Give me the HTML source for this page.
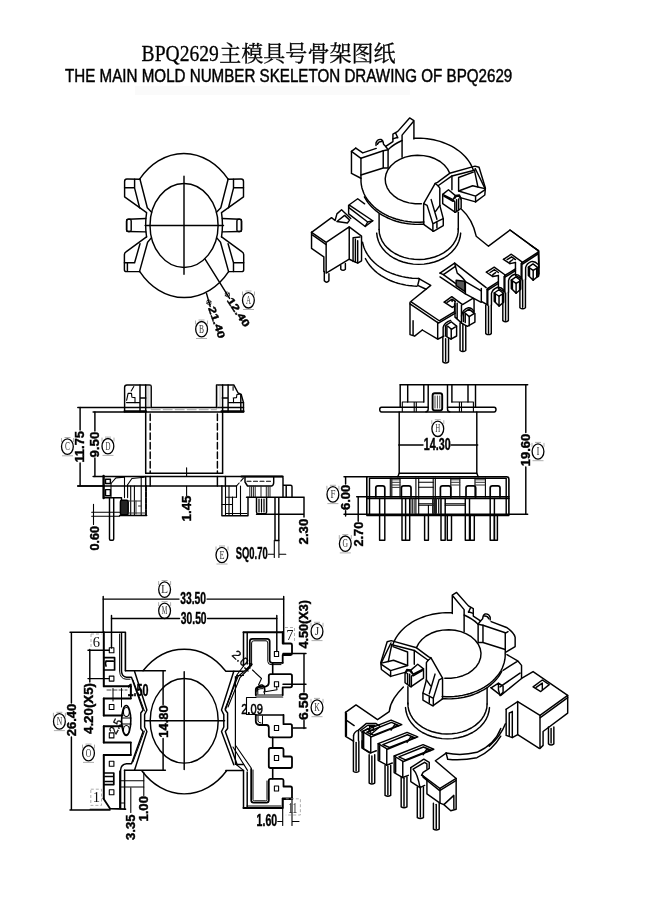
<!DOCTYPE html>
<html lang="zh">
<head>
<meta charset="utf-8">
<title>BPQ2629主模具号骨架图纸</title>
<style>
html,body{margin:0;padding:0;background:#fff;}
body{width:650px;height:920px;overflow:hidden;position:relative;font-family:"Liberation Sans","Noto Sans CJK SC",sans-serif;}
svg{position:absolute;left:0;top:0;display:block;will-change:transform;}
.ln{fill:none;stroke:#000;stroke-width:1.45;stroke-linecap:round;stroke-linejoin:round;}
.t1{font-family:"Liberation Serif","Noto Serif CJK SC",serif;font-size:22.3px;fill:#000;stroke:#000;stroke-width:.3px;}
.t1c{font-family:"Liberation Serif","Noto Serif CJK SC",serif;font-size:21.6px;fill:#000;stroke:#000;stroke-width:.3px;}
.t2{font-family:"Liberation Sans","Noto Sans CJK SC",sans-serif;font-size:17.8px;fill:#000;stroke:#000;stroke-width:.45px;}
.dim{font-family:"Liberation Sans","Noto Sans CJK SC",sans-serif;font-weight:bold;font-size:12.6px;fill:#000;stroke:#000;stroke-width:.35px;}
.dim2{font-family:"Liberation Sans","Noto Sans CJK SC",sans-serif;font-weight:bold;font-size:12.3px;fill:#000;stroke:#000;stroke-width:.4px;}
.dimh{font-family:"Liberation Sans","Noto Sans CJK SC",sans-serif;font-weight:bold;font-size:15.6px;fill:#000;stroke:#000;stroke-width:.4px;}
.dimt{font-family:"Liberation Sans",sans-serif;font-size:12.5px;fill:#000;stroke:#000;stroke-width:.3px;}
.pinno{font-family:"Liberation Serif",serif;font-size:14.5px;fill:#111;text-anchor:middle;}
.dat{font-family:"Liberation Serif",serif;font-size:11.5px;fill:#333;text-anchor:middle;}
.de{fill:none;stroke:#000;stroke-width:1.3;}
</style>
</head>
<body>
<svg width="650" height="920" viewBox="0 0 650 920">
<rect x="0" y="0" width="650" height="920" fill="#fff"/>
<!-- title -->
<rect x="135" y="86" width="275" height="9" fill="#fafafa"/>
<text class="t1" x="141.6" y="60.9" textLength="77.2" lengthAdjust="spacingAndGlyphs">BPQ2629</text>
<text class="t1c" x="219.2" y="61.3" textLength="176.4" lengthAdjust="spacingAndGlyphs">主模具号骨架图纸</text>
<text class="t2" x="65.1" y="82.4" textLength="447.2" lengthAdjust="spacingAndGlyphs">THE MAIN MOLD NUMBER SKELETON DRAWING OF BPQ2629</text>
<!-- top view -->
<g class="ln">
<ellipse cx="184.05" cy="225.4" rx="34.05" ry="42"/>
<path d="M184,176.3 L184,274.3 M145.2,225.4 L223.5,225.4"/>
<path d="M139.6,179.2 A57.7,71.95 0 0 1 228.1,179.2"/>
<path d="M139.8,271.6 A57.7,71.95 0 0 0 228.6,271.6"/>
<g id="wingR">
<path d="M228.1,179.2 L241.2,179 Q243.5,179 243.5,181.5 L243.5,196.9 L221.5,212.7 Q223.4,225.4 221.5,237"/>
<path d="M233.5,179.2 L233.5,188.1 L228.5,207.7 M233.5,187.8 L243.5,187.8"/>
<path d="M228.1,179.2 L220.8,207.7 L216.5,212.3"/>
<path d="M222.3,218.5 L240,219.2 Q241.5,219.2 241.5,221.2 L241.5,230 Q241.5,231.5 240,231.5 L222.3,231.9"/>
<rect x="236.9" y="219.3" width="4.6" height="12.2" rx="1.6"/>
</g>
<g id="wingRB">
<path d="M228.6,271.6 L241.5,271.6 Q243.7,271.6 243.7,269.7 L243.7,254.6 Q243.5,252.6 242.1,251.9 L221.6,236.8"/>
<path d="M233.5,271.6 L233.5,262.7 L228.1,243.8 M233.5,262.7 L243.7,262.7"/>
<path d="M228.6,271.6 L220.5,242.2 L216.8,237.9"/>
</g>
<g transform="translate(368.1,0) scale(-1,1)">
<path d="M228.1,179.2 L241.2,179 Q243.5,179 243.5,181.5 L243.5,196.9 L221.5,212.7 Q223.4,225.4 221.5,237"/>
<path d="M233.5,179.2 L233.5,188.1 L228.5,207.7 M233.5,187.8 L243.5,187.8"/>
<path d="M228.1,179.2 L220.8,207.7 L216.5,212.3"/>
<path d="M222.3,218.5 L240,219.2 Q241.5,219.2 241.5,221.2 L241.5,230 Q241.5,231.5 240,231.5 L222.3,231.9"/>
<rect x="236.9" y="219.3" width="4.6" height="12.2" rx="1.6"/>
<path d="M228.6,271.6 L241.5,271.6 Q243.7,271.6 243.7,269.7 L243.7,254.6 Q243.5,252.6 242.1,251.9 L221.6,236.8"/>
<path d="M233.5,262.7 L228.1,243.8 M233.5,262.7 L243.7,262.7 M240.7,262.7 L240.7,271.2"/>
<path d="M228.6,271.6 L220.5,242.2 L216.8,237.9"/>
</g>
<path d="M204.9,258.9 L229.6,298.4 M206.5,293.4 L210.2,306.5"/>
</g>
<g>
<text class="dimt" transform="translate(222.9,293.2) rotate(57)" style="font-size:8.5px;stroke:none">Φ</text>
<text class="dim" transform="translate(226.6,300.4) rotate(57)" style="font-size:10.4px" textLength="32.9" lengthAdjust="spacingAndGlyphs">12.40</text>
<text class="dimt" transform="translate(205,300.2) rotate(71)" style="font-size:8.5px;stroke:none">Φ</text>
<text class="dim" transform="translate(208,307.95) rotate(71)" style="font-size:10.4px" textLength="33" lengthAdjust="spacingAndGlyphs">21.40</text>
<g class="de"><ellipse cx="248.4" cy="300.3" rx="5.9" ry="7.7"/><ellipse cx="201.6" cy="329.2" rx="5.9" ry="7.7"/></g>
<g stroke="#999" stroke-width=".8" fill="none"><path d="M242.5,291.5 v4 M254.5,291.5 v4 M245.5,291 h6 M243,309.5 h11 M195.5,320.5 v4 M207.5,320.5 v4 M198.5,320 h6 M196,338.5 h11"/></g>
<text class="dat" x="248.4" y="304" textLength="5" lengthAdjust="spacingAndGlyphs">A</text>
<text class="dat" x="201.6" y="333" textLength="5" lengthAdjust="spacingAndGlyphs">B</text>
</g>
<!-- isometric view 1 (top right) -->
<g class="ln" style="stroke-width:1.45">
<path d="M419.0,278.5 L415.6,278.4 L412.2,278.2 L408.9,277.8 L405.5,277.3 L402.3,276.6 L399.0,275.8 L395.9,274.9 L392.8,273.8 L389.9,272.6 L387.0,271.3 L384.2,269.8 L381.6,268.2 L379.1,266.5 L376.8,264.7 L374.5,262.8 L372.5,260.8 L370.6,258.7 L368.9,256.5 L367.4,254.3 L366.0,252.0 L364.9,249.7 L363.9,247.3 L363.1,244.8 L362.6,242.3"/>
<path d="M417.0,286.2 L414.2,286.1 L411.4,285.8 L408.6,285.5 L405.9,285.1 L403.1,284.5 L400.4,283.9 L397.8,283.2 L395.2,282.4 L392.7,281.5 L390.2,280.5 L387.8,279.4 L385.5,278.2 L383.3,276.9 L381.1,275.6 L379.0,274.2 L377.1,272.7 L375.2,271.1 L373.5,269.5 L371.8,267.8 L370.3,266.0 L368.9,264.2 L367.6,262.4 L366.5,260.5 L365.4,258.6"/>
<path d="M461.5,209.2 Q472.5,219 476.2,236.2 L488.5,246.2 L510,230 L538.5,250.8 L539,274"/>
</g>
<g transform="translate(345,112) scale(0.107692)" class="ln" style="stroke-width:13.46" >
<path d="M100,335 L60,365 L60,570 L148,615"/>
<path d="M148,430 L60,365"/>
<path d="M100,335 L165,380 L290,338"/>
</g>
<g transform="translate(300,190) scale(0.153846)" class="ln" style="stroke-width:9.42" >
<path d="M75,275 L75,380 L155,435 L155,530"/>
<path d="M75,275 L170,340 L320,240 L320,450 L170,540 L170,340"/>
<path d="M80,292 L168,354"/>
<path d="M75,275 L205,180 L228,198 L240,155 L270,128 L330,185"/>
<path d="M240,205 L290,165 L322,195 L308,215 Z"/>
<path d="M316,99 L375,57 L420,90 M316,99 L316,155 L424,237 L473,200 L326,102 L316,99"/>
<path d="M320,116 L440,208 L473,200 M440,208 L424,237"/>
<path d="M320,240 L400,300 L400,460 L375,475 L320,450"/>
<path d="M345,310 L345,465 M360,320 L360,470 M375,330 L375,475 M345,310 L390,305"/>
<path d="M158,530 L158,590 Q173,608 188,590 L188,545"/>
<path d="M265,490 L265,515 Q280,530 295,515 L295,478"/>
</g>
<g transform="translate(380,230) scale(0.153846)" class="ln" style="stroke-width:9.42" >
<path d="M250,315 L330,360 L200,465 L385,590 L485,530"/>
<path d="M245,360 L256,317 M245,360 L300,385"/>
<path d="M195,480 L380,605 L490,540"/>
<path d="M195,470 L195,680 L225,690 L275,650 M215,590 L215,685"/>
<path d="M375,600 L375,710 L415,690 M275,650 L375,710"/>
<path d="M485,530 L485,480"/>
</g>
<g transform="translate(440,240) scale(0.153846)" class="ln" style="stroke-width:9.42" >
<path d="M0,215 L95,150 L300,310"/>
<path d="M95,150 L112,215 Q150,245 165,270"/>
<path d="M0,215 L22,225 L100,172"/>
<path d="M22,225 L105,285"/>
<path d="M105,262 L160,268 L163,335 L105,297 Z" style="fill:#555"/>
<path d="M0,240 L165,350 L268,405"/>
<path d="M165,270 L165,350 M165,270 L268,330"/>
<path d="M640,75 L643,180"/>
<path d="M455,-65 L640,70"/>
</g>
<g transform="translate(420,280) scale(0.107692)" class="ln" style="stroke-width:13.46" >
<path d="M245,418 L290,388 L340,428 L292,458 Z"/>
<path d="M237,425 L237,520 L287,550 L340,520 L340,430"/>
<path d="M290,458 L290,548 M250,435 L250,525"/>
<path d="M215,525 L215,440 Q225,395 285,375"/>
<path d="M212,525 L212,760 Q238,782 265,760 L265,540 M238,545 L238,755"/>
<path d="M225,205 L295,155 L395,228 L490,170"/>
<path d="M225,205 L300,255 L325,240 M252,208 L298,178 L328,198 M298,178 L298,200"/>
<path d="M325,198 L325,345 L385,400 L385,235 M345,215 L345,358"/>
<path d="M385,400 L440,430 L510,392 L510,310"/>
<path d="M410,300 L455,270 L505,310 L457,340 Z"/>
<path d="M403,305 L403,385 M457,340 L457,425 M420,315 L420,395"/>
<path d="M385,335 Q392,275 450,257 Q480,255 500,290"/>
<path d="M490,170 L502,182 L502,300"/>
<path d="M372,400 L372,655 Q398,675 425,655 L425,425 M398,410 L398,660"/>
</g>
<g transform="translate(485,245) scale(0.092308)" class="ln" style="stroke-width:15.71" >
<path d="M200,155 L285,100 L400,182"/>
<path d="M200,155 L270,202 L330,190"/>
<path d="M240,158 L288,128 L330,158 M270,202 L270,180 L300,160"/>
<path d="M400,190 L400,368"/>
<path d="M330,190 L330,330 L400,370"/>
<path d="M440,372 L440,245 Q450,200 500,180 Q540,170 575,210"/>
<path d="M470,240 L520,205 L572,245 L522,275 Z"/>
<path d="M470,240 L470,330 L522,382 L522,275"/>
<path d="M572,245 L572,340 L522,382"/>
<path d="M482,255 L482,335 M560,262 L560,345"/>
<path d="M378,372 L378,680 Q408,702 438,680 L438,372"/>
<path d="M408,380 L408,675"/>
<path d="M392,200 L392,365"/>
<path d="M400,190 L580,75 M406,206 L576,97"/>
<path d="M490,0 L580,60 L582,335 L572,345"/>
<path d="M215,330 L215,508"/>
<path d="M145,330 L145,470 L215,510"/>
<path d="M255,512 L255,385 Q265,340 315,320 Q355,310 390,350"/>
<path d="M285,380 L335,345 L387,385 L337,415 Z"/>
<path d="M285,380 L285,470 L337,522 L337,415"/>
<path d="M387,385 L387,480 L337,522"/>
<path d="M297,395 L297,475 M375,402 L375,485"/>
<path d="M193,512 L193,820 Q223,842 253,820 L253,512"/>
<path d="M223,520 L223,815"/>
<path d="M207,340 L207,505"/>
<path d="M215,330 L330,258 M221,346 L330,277"/>
<path d="M30,470 L30,648"/>
<path d="M-40,470 L-40,610 L30,650"/>
<path d="M70,652 L70,525 Q80,480 130,460 Q170,450 205,490"/>
<path d="M100,520 L150,485 L202,525 L152,555 Z"/>
<path d="M100,520 L100,610 L152,662 L152,555"/>
<path d="M202,525 L202,620 L152,662"/>
<path d="M112,535 L112,615 M190,542 L190,625"/>
<path d="M8,652 L8,960 Q38,982 68,960 L68,652"/>
<path d="M38,660 L38,955"/>
<path d="M22,480 L22,645"/>
<path d="M30,470 L145,398 M36,486 L145,417"/>
<path d="M15,295 L100,240 L215,322"/>
<path d="M15,295 L85,342 L145,330"/>
<path d="M55,298 L103,268 L145,298 M85,342 L85,320 L115,300"/>
</g>
<g class="ln" style="stroke-width:1.45">
<path d="M414.0,138.3 L417.3,138.2 L420.7,138.2 L424.0,138.4 L427.2,138.8 L430.5,139.2 L433.7,139.8 L436.9,140.6 L440.0,141.4 L443.0,142.5 L445.9,143.6 L448.8,144.8 L451.5,146.2 L454.1,147.7 L456.6,149.3 L459.0,151.0 L461.2,152.8 L463.3,154.7 L465.3,156.7 L467.0,158.8 L468.6,160.9 L470.1,163.1 L471.3,165.4 L472.4,167.7 L473.3,170.0"/>
<path d="M424.0,222.0 L419.9,222.2 L415.8,222.2 L411.8,222.0 L407.8,221.5 L403.8,220.9 L399.9,220.0 L396.1,219.0 L392.4,217.7 L388.9,216.3 L385.4,214.7 L382.2,212.9 L379.1,210.9 L376.3,208.8 L373.6,206.5 L371.2,204.1 L369.0,201.6 L367.0,199.0 L365.3,196.3 L363.9,193.5 L362.8,190.6 L361.9,187.7 L361.3,184.7 L361.0,181.7 L361.0,178.7"/>
<path d="M424.0,224.2 L420.8,224.3 L417.7,224.4 L414.5,224.3 L411.4,224.1 L408.3,223.8 L405.2,223.3 L402.1,222.7 L399.1,222.0 L396.2,221.2 L393.3,220.3 L390.5,219.2 L387.8,218.0 L385.2,216.7 L382.6,215.3 L380.2,213.9 L377.9,212.3 L375.8,210.6 L373.7,208.8 L371.8,207.0 L370.0,205.1 L368.4,203.1 L366.9,201.0 L365.6,198.9 L364.4,196.8"/>
<path d="M421.4,203.7 L415.2,203.7 L409.1,202.9 L403.3,201.2 L398.0,198.8 L393.5,195.6 L389.8,191.9 L387.2,187.8 L385.6,183.3 L385.2,178.7 L386.0,174.1 L387.9,169.8 L391.0,165.7 L395.0,162.2 L399.8,159.3 L405.2,157.1 L411.2,155.7 L417.4,155.2 L423.6,155.6 L429.6,156.8 L435.1,158.8 L440.1,161.5 L444.3,165.0 L447.5,168.9 L449.7,173.2"/>
<path d="M458.3,228.5 L458.1,232.4 L457.3,236.3 L455.7,240.1 L453.6,243.7 L450.8,247.1 L447.4,250.2 L443.6,252.8 L439.3,255.1 L434.6,257.0 L429.7,258.3 L424.6,259.2 L419.4,259.5 L414.2,259.3 L409.0,258.6 L404.0,257.4 L399.3,255.7 L394.9,253.5 L390.9,250.9 L387.5,247.9 L384.5,244.7 L382.2,241.1 L380.5,237.3 L379.4,233.5 L379.1,229.5"/>
<path d="M460.7,233.1 L460.1,237.3 L458.9,241.3 L457.1,245.2 L454.6,248.8 L451.5,252.2 L447.9,255.3 L443.8,258.0 L439.3,260.2 L434.4,262.0 L429.3,263.3 L424.1,264.1 L418.7,264.4 L413.3,264.1 L408.1,263.3 L403.0,262.0 L398.1,260.2 L393.6,258.0 L389.5,255.3 L385.9,252.2 L382.8,248.8 L380.3,245.2 L378.5,241.3 L377.3,237.3 L376.7,233.1"/>
<path d="M379.1,214 L379.1,229.5"/>
<path d="M458.3,212.3 L458.3,229.5"/>
</g>
<g transform="translate(345,112) scale(0.107692)" class="ln" style="stroke-width:13.46" >
<path d="M148,430 L148,615"/>
<path d="M148,430 L355,360 L400,350 Q450,300 530,265"/>
<path d="M148,585 L355,520 L355,360 M355,520 L400,520 L400,350"/>
<path d="M288,312 L288,285 Q300,250 335,255 Q355,262 358,300 L378,320 L445,275 L445,205 L490,180 L600,55 L640,80 L640,250"/>
<path d="M300,300 Q315,270 345,275 M470,195 L490,240 M445,250 L490,235"/>
<path d="M635,88 L530,215 L530,420"/>
<path d="M378,320 L400,350"/>
</g>
<g transform="translate(415,165) scale(0.115385)" class="ln" style="stroke-width:12.57" >
<path d="M75,335 L175,160 L195,150 L300,72 L520,10 L555,20 L610,200 L605,260 L525,320 L400,285"/>
<path d="M215,350 L215,200 L200,180 L320,95 L515,45"/>
<path d="M175,160 L200,180"/>
<path d="M320,95 L320,215 M378,108 L378,225 M378,108 L505,62"/>
<path d="M515,45 L545,190 M522,30 L605,200"/>
<path d="M378,225 L500,180 L545,190 L605,205 M378,225 L525,270 L605,215 M525,270 L525,320"/>
<path d="M75,335 L75,515 L160,575 L245,525 L245,465 L215,350"/>
<path d="M75,335 L105,350 L155,510 L155,575 M155,510 L190,490 L245,465 M190,490 L190,545"/>
<path d="M140,300 L190,470 M180,400 L215,350"/>
<path d="M240,255 L290,215 L350,265 L385,260 L400,290 L400,375 L350,410 L240,335 Z"/>
<path d="M240,255 L330,300 L350,265 M330,300 L345,320 L345,410 M250,270 L330,315"/>
<path d="M345,290 Q350,268 375,268 Q392,272 392,295"/>
<path d="M360,300 L360,400 M378,295 L378,390"/>
</g>
<!-- front view with dimensions -->
<g class="ln">
<!-- top clips -->
<path d="M124.6,411.8 L124.6,387.4 Q124.6,384.9 127,384.9 L149.5,384.9 Q151.2,384.9 151.2,386.5 L151.2,407.4"/>
<path d="M140,384.9 L140,411.8 M126.6,402.6 L140,402.6 M140,398 L145.8,398"/>
<path d="M126.6,400.3 L128.1,393.4 L131.5,393.4 L131.9,397.2 L135,397.6 L135,402.6 M131.2,391 L133.8,386.5" style="stroke-width:1.1"/>
<path d="M216.5,407.4 L216.5,384.9 L233.8,384.9 L238.1,393 L241.2,394.5 L243.5,402.6 L243.5,411.5"/>
<path d="M228.1,384.9 L228.1,411.8 M222.3,398 L228.1,398 M228.1,402.6 L243.5,402.6 M240.8,394.5 L240.8,411"/>
<path d="M233.1,386.5 L233.1,390.3 M233.1,398 L236.5,397.6 L236.9,394.5 L239.2,394.2 M233.5,398 L233.5,402.6" style="stroke-width:1.1"/>
<!-- upper flange -->
<path d="M77.8,407.4 L243.5,407.4 M93.1,412 L243.5,412"/>
<path d="M151.2,409.7 L216.5,409.7" style="stroke:#888;stroke-width:.8" stroke-dasharray="9 3"/>
<path d="M124.6,411.4 L146,411.4 M221.5,411.4 L243.5,411.4" style="stroke-width:2.2"/>
<!-- cylinder -->
<path d="M145.7,384.9 L145.7,473.2 M222.6,384.9 L222.6,473.2" style="stroke-width:1.5"/>
<path d="M150.2,414 L150.2,473 M217.4,414 L217.4,473" stroke-dasharray="6.5 3"/>
<path d="M148,386 L148,407 M150.2,386 L150.2,407 M217.6,386 L217.6,407 M220,386 L220,407" style="stroke:#999;stroke-width:.7"/>
<!-- lower flange / base -->
<path d="M145.7,473.2 L222.6,473.2 M93.1,476.4 L282,476.4 M77.8,486 L236.5,486"/>
<path d="M150.2,476.4 L150.2,486 M145.7,476.4 L145.7,486 M217.4,476.4 L217.4,486 M225.4,476.4 L225.4,486"/>
<path d="M186.6,467.7 L186.6,476.3 M186.6,486.2 L186.6,495.4" style="stroke-width:1.1"/>
<!-- left terminal block -->
<path d="M103.6,476 L103.6,498" style="stroke-width:2.4"/>
<path d="M103.6,497.8 L121.5,497.8 L121.5,515.5 M119.6,515.5 L146.7,515.5"/>
<path d="M146,486 L146,515.5" style="stroke-width:1.9" stroke-dasharray="5 1"/>
<path d="M105.5,479.2 h4.9 v4.3 h-4.9 Z M105.5,489.6 h4.9 v6.2 h-4.9 Z"/>
<path d="M111,483.5 L115.9,477.9 L124.5,477.3 M127.6,484.7 L131.9,478.5 L144.2,477.3" style="stroke-width:1.1"/>
<path d="M124.5,477.3 L124.5,497.6 M127.6,484.7 L127.6,497.6 M130.7,486 L130.7,515.5 M134.4,486 L134.4,515.5 M141.2,477.3 L141.2,515.5 M111,483.5 L111,497.6" style="stroke-width:1.1"/>
<rect x="120.4" y="500.2" width="7.8" height="14.6" rx="1.5" style="fill:#222;stroke:#000"/>
<path d="M128.5,501 L141,501 M136,501 L136,514 M138.5,506 L141,506 M128.5,513 L146,513" style="stroke-width:1;stroke:#333"/>
<!-- left pin -->
<path d="M109.5,498 L109.5,539 Q109.5,540.2 110.6,540.2 L112.6,540.2 Q113.7,540.2 113.7,539 L113.7,498"/>
<!-- right terminal block -->
<path d="M221.9,485.8 L221.9,515.8 L248,515.8 L248,497.3"/>
<path d="M225.5,486 L225.5,515 M229,486 L229,515 M232.5,497 L232.5,515 M236.5,486 L236.5,497.3 M240.5,486 L240.5,515" style="stroke-width:1.1"/>
<path d="M225.5,497.3 L236.5,497.3 M222,504.5 L232,504.5 M225.5,513.5 L247,513.5" style="stroke-width:1.1"/>
<path d="M241.5,476.4 L282.7,476.4" style="stroke-width:2"/>
<path d="M282,476.4 Q283,476.6 283,478 L283,497.3 M283,485.2 L290.5,485.2 Q292,485.2 292,486.5 L292,497.3 M286.2,485.2 L286.2,497.3"/>
<path d="M236.5,486 L243.5,478 M247,481.2 L272,481.2" stroke-dasharray="4 2.5" style="stroke-width:1.1"/>
<path d="M247.5,486 L271.5,486 Q273.7,485.5 273.7,482.5 L273.7,477 M247.5,486 L245,482 L245,477"/>
<path d="M249.8,486 L249.8,497 M251.6,486 L251.6,497 M253.4,486 L253.4,497 M255.2,486 L255.2,497 M261,486 L261,497 M266.3,486 L266.3,497 M268.2,486 L268.2,497 M270,486 L270,497" style="stroke-width:1;stroke:#222"/>
<path d="M256.5,498 L256.5,512 Q256.5,513.6 258,513.6 L265,513.6 Q266.6,513.6 266.6,512 L266.6,498"/>
<path d="M259,499 L259,512 M261.5,499 L261.5,512 M264,499 L264,512" style="stroke-width:1.2"/>
<path d="M246.5,497.3 L304.2,497.3 M256.5,514.3 L304.2,514.3 M304,497.3 L304,517"/>
<!-- right pin -->
<path d="M275,498 L275,540.4 L278.8,540.4 L278.8,498"/>
<path d="M274.3,540.4 L274.3,557.5 M278.9,540.4 L278.9,557.5 M268.2,554.2 L274.3,554.2 M278.9,554.2 L285.8,554.2" style="stroke-width:1.1"/>
<!-- dimension lines -->
<path d="M80.1,407.4 L80.1,430 M80.1,463 L80.1,486 M94.9,412 L94.9,431 M94.9,458 L94.9,476.4 M77.8,486 L104,486"/>
<path d="M93.5,504.3 L93.5,524.5 M91.7,512.2 L119.6,512.2 M91.7,516.2 L119.6,516.2" style="stroke-width:1.1"/>
</g>
<g>
<text class="dim2" transform="translate(84.3,462.6) rotate(-90)" textLength="31.6" lengthAdjust="spacingAndGlyphs">11.75</text>
<text class="dim2" transform="translate(99,457.6) rotate(-90)" textLength="25.9" lengthAdjust="spacingAndGlyphs">9.50</text>
<text class="dim2" transform="translate(98.5,550.6) rotate(-90)" textLength="24.5" lengthAdjust="spacingAndGlyphs">0.60</text>
<text class="dim2" transform="translate(191.2,521.5) rotate(-90)" textLength="26" lengthAdjust="spacingAndGlyphs">1.45</text>
<text class="dim2" transform="translate(308.3,544.4) rotate(-90)" textLength="25.6" lengthAdjust="spacingAndGlyphs">2.30</text>
<text class="dimh" x="235.8" y="559" textLength="31.8" lengthAdjust="spacingAndGlyphs">SQ0.70</text>
<g class="de"><ellipse cx="67.4" cy="446.6" rx="5.9" ry="7.7"/><ellipse cx="107.9" cy="446.2" rx="5.9" ry="7.7"/><ellipse cx="221.9" cy="555" rx="5.9" ry="7.7"/></g>
<g stroke="#999" stroke-width=".8" fill="none"><path d="M61.5,438 v4 M73.5,438 v4 M64.5,437.5 h6 M62,455.8 h11 M102,437.6 v4 M114,437.6 v4 M105,437.1 h6 M102.5,455.4 h11 M216,546.5 v4 M228,546.5 v4 M219,546 h6 M216.5,564 h11"/></g>
<text class="dat" x="67.4" y="450" textLength="5" lengthAdjust="spacingAndGlyphs">C</text>
<text class="dat" x="107.9" y="449.6" textLength="5" lengthAdjust="spacingAndGlyphs">D</text>
<text class="dat" x="221.9" y="558.5" textLength="5" lengthAdjust="spacingAndGlyphs">E</text>
</g>
<!-- side view with dimensions -->
<g class="ln">
<path d="M400.2,384.8 L527.7,384.8" />
<path d="M400.2,384.8 L400.2,407.3 M407.7,384.8 L407.7,402 M423.8,384.8 L423.8,402 M428.2,384.8 L428.2,409 Q428.2,411.5 426,411.8" />
<path d="M402.3,402 L423.8,402 M402.3,402 L402.3,411.5 M414.2,402 L414.2,411.5 M416.3,402 L416.3,411.5" style="stroke-width:1.1" />
<path d="M475.5,384.8 L475.5,407.3 M468,384.8 L468,402 M451.9,384.8 L451.9,402 M447.5,384.8 L447.5,409 Q447.5,411.5 449.7,411.8" />
<path d="M473.4,402 L451.9,402 M473.4,402 L473.4,411.5 M461.5,402 L461.5,411.5 M459.4,402 L459.4,411.5" style="stroke-width:1.1" />
<path d="M428.2,407.3 L381.5,407.3 Q379.7,407.3 379.7,409.6 Q379.7,412 381.5,412 L494.2,412 Q496,412 496,409.6 Q496,407.3 494.2,407.3 L447.5,407.3" />
<rect x="432.6" y="393.3" width="9.6" height="17.2" rx="2.2" style="stroke-width:1.9"/>
<path d="M435,396 L435,408 M437.4,396 L437.4,408 M439.8,396 L439.8,408" style="stroke-width:1;stroke:#444" />
<path d="M399.2,412 L399.2,473.3 L476.8,473.3 L476.8,412" />
<path d="M399.2,473.3 L397.8,476.8 M476.8,473.3 L478.2,476.8" />
<path d="M366.8,514.8 L366.8,476.8 L506.5,476.8 Q508.9,476.8 508.9,479.2 L508.9,514.8" style="stroke-width:1.6" />
<path d="M369.5,478.2 L506.2,478.2 M369.5,478.2 L369.5,514 M506.2,478.2 L506.2,514" />
<path d="M356.7,496.7 L508.9,496.7 M366.8,498.5 L508.9,498.5" />
<path d="M344,514.2 L527.7,514.2 M366.8,515.6 L508.9,515.6" />
<path d="M344,476.8 L366.8,476.8" />
<path d="M375.8,497 L375.8,488 Q375.8,485.8 378.0,485.8 L382.6,485.8 Q384.8,485.8 384.8,488 L384.8,497" style="stroke-width:1.7" />
<path d="M401.4,497 L401.4,488 Q401.4,485.8 403.6,485.8 L408.8,485.8 Q411.0,485.8 411.0,488 L411.0,497" style="stroke-width:1.7" />
<path d="M440.4,497 L440.4,488 Q440.4,485.8 442.6,485.8 L448.6,485.8 Q450.8,485.8 450.8,488 L450.8,497" style="stroke-width:1.7" />
<path d="M466.0,497 L466.0,488 Q466.0,485.8 468.2,485.8 L473.5,485.8 Q475.7,485.8 475.7,488 L475.7,497" style="stroke-width:1.7" />
<path d="M490.2,497 L490.2,488 Q490.2,485.8 492.4,485.8 L497.8,485.8 Q500.0,485.8 500.0,488 L500.0,497" style="stroke-width:1.7" />
<path d="M379.6,498.5 L379.6,540.3 L384.8,540.3 L384.8,498.5" />
<path d="M402.0,498.5 L402.0,540.3 L409.7,540.3 L409.7,498.5" />
<path d="M405.6,498.5 L405.6,540" />
<path d="M424.6,515.6 L424.6,540.3 L428.4,540.3 L428.4,515.6" />
<path d="M441.0,498.5 L441.0,540.3 L445.2,540.3 L445.2,498.5" />
<path d="M447.3,515.6 L447.3,540.3 L451.5,540.3 L451.5,515.6" />
<path d="M465.3,498.5 L465.3,540.3 L469.5,540.3 L469.5,498.5" />
<path d="M470.2,515.6 L470.2,540.3 L474.3,540.3 L474.3,515.6" />
<path d="M490.2,498.5 L490.2,540.3 L494.4,540.3 L494.4,498.5" />
<path d="M494.4,515.6 L494.4,540.3 L497.4,540.3 L497.4,515.6" />
<path d="M390.3,478 L390.3,497 M391.8,478 L391.8,497 M400,478 L400,497 M415.9,478 L415.9,514 M418.7,478 L418.7,514 M433.2,478 L433.2,514 M435.3,478 L435.3,514 M450.8,478 L450.8,497 M459.8,478 L459.8,497 M475,478 L475,497 M485.4,478 L485.4,497" style="stroke-width:1.1" />
<path d="M392,479.8 L400,479.8 M392,482.3 L400,482.3 M392,485 L400,485 M392,487.4 L400,487.4 M451,479.8 L459.8,479.8 M451,482.3 L459.8,482.3 M451,485 L459.8,485 M475.5,479.8 L485,479.8 M475.5,482.3 L485,482.3 M475.5,485 L485,485" style="stroke-width:1;stroke:#333" />
<path d="M418.7,482.3 L433.2,482.3 M418.7,487.2 L433.2,487.2 M418.7,503.8 L433.2,503.8 M418.7,505.3 L433.2,505.3 M445.2,503.8 L465.3,503.8 M445.2,505.3 L465.3,505.3 M428.4,505.3 L428.4,514" style="stroke-width:1.1" />
<path d="M411,499 L411,513.5 M412.6,499 L412.6,513.5 M414.2,499 L414.2,513.5 M432.5,499 L432.5,513.5 M434.5,499 L434.5,513.5 M436.5,499 L436.5,513.5 M438.5,499 L438.5,513.5 M440.2,499 L440.2,513.5" style="stroke-width:1;stroke:#222" />
<path d="M525.8,384.8 L525.8,432.5 M525.8,467 L525.8,514.2" />
<path d="M398.8,445 L423,445 M451,445 L477.7,445" />
<path d="M345.6,476.8 L345.6,484 M345.6,510.6 L345.6,516 M358.2,496.7 L358.2,521.3" />
</g>
<g>
<text class="dim2" transform="translate(530,466.2) rotate(-90)" textLength="32.5" lengthAdjust="spacingAndGlyphs">19.60</text>
<text class="dimh" x="423.8" y="450.1" textLength="26.8" lengthAdjust="spacingAndGlyphs">14.30</text>
<text class="dim2" transform="translate(350,510) rotate(-90)" textLength="25.3" lengthAdjust="spacingAndGlyphs">6.00</text>
<text class="dim2" transform="translate(362.5,546.6) rotate(-90)" textLength="25" lengthAdjust="spacingAndGlyphs">2.70</text>
<g class="de"><ellipse cx="437.8" cy="428.8" rx="5.9" ry="7.7"/><ellipse cx="538" cy="451.5" rx="5.9" ry="7.7"/><ellipse cx="332.9" cy="494.4" rx="5.9" ry="7.7"/><ellipse cx="345.3" cy="543.7" rx="5.9" ry="7.7"/></g>
<g stroke="#999" stroke-width=".8" fill="none"><path d="M431.8,420.2 v4 M443.8,420.2 v4 M434.8,419.7 h6 M532,442.9 v4 M544,442.9 v4 M535,442.4 h6 M532.5,460.7 h11 M326.9,485.8 v4 M338.9,485.8 v4 M329.9,485.3 h6 M327.4,503.6 h11 M339.3,535.1 v4 M351.3,535.1 v4 M342.3,534.6 h6 M339.8,552.9 h11"/></g>
<text class="dat" x="437.8" y="432.2" textLength="5" lengthAdjust="spacingAndGlyphs">H</text>
<text class="dat" x="538" y="455" textLength="3" lengthAdjust="spacingAndGlyphs">I</text>
<text class="dat" x="332.9" y="497.8" textLength="5" lengthAdjust="spacingAndGlyphs">F</text>
<text class="dat" x="345.3" y="547.2" textLength="5.5" lengthAdjust="spacingAndGlyphs">G</text>
</g>
<!-- bottom view with dimensions -->
<g class="ln">
<ellipse cx="184.2" cy="720.8" rx="34" ry="42.3"/>
<path d="M143,670.8 A57.8,72.3 0 0 1 225.4,670.8" />
<path d="M142,771 A57.8,72.3 0 0 0 226.4,771" />
<path d="M184.2,671.8 L184.2,769.4 M144.6,720.8 L224.6,720.8" />
<path d="M125.4,670.8 L165.4,670.8 M124.6,770.3 L165.4,770.3 M225.8,671.2 L243.5,671.2 M236.5,764.4 L243.5,764.4 M225.8,770.4 L243.5,770.4" />
<path d="M163.1,670.8 L163.1,704.5 M163.1,738.5 L163.1,770.3" />
<path d="M103.8,632.3 L103.8,686.2 M103.8,698.5 L103.8,715.4 M103.8,726.2 L103.8,742.6 M103.8,755 L103.8,798.5" style="stroke-width:2" />
<path d="M103.8,632.3 L125.4,632.3 L125.4,670.8" style="stroke-width:1.6" />
<path d="M121.5,633 L121.5,671 Q121.8,676.8 126.5,677.2 L131.5,677.2 L143.1,710 L140.8,713 L140.8,728.5 L143.1,731.5 L131.5,763.8 L126.5,763.8 Q121,764.5 120.6,770 L120.6,808.5" />
<path d="M119.6,634 L119.6,671 Q120,678.8 126,679.2 L130,679.2 M119.6,808 L119.6,771" style="stroke-width:1" />
<path d="M134.6,671.5 L146.9,710 L144.6,714.6 L144.6,727 L146.9,731.5 L134.6,770" />
<path d="M133,680 L144.5,711 M133,762 L144.5,731" style="stroke-width:1" />
<path d="M124.6,770.3 L124.6,809.2" />
<path d="M103.8,686.2 L130.8,686.2 M103.8,698.5 L130.8,698.5 M103.8,715.4 L122.5,715.4 M103.8,726.2 L122.5,726.2 M103.8,742.6 L130.8,742.6 M103.8,755 L130.8,755" style="stroke-width:2" />
<path d="M130.8,686.2 L130.8,698.5 M130.8,742.6 L130.8,755" style="stroke-width:1.6" />
<path d="M103.8,657.7 L114.6,657.7 L114.6,670 L103.8,670 M106,661.2 L113,661.2 M106,661.2 Q104.8,663 106,666" style="stroke-width:1.7" />
<path d="M103.8,773 L113.8,773 L113.8,784.6 L103.8,784.6 M105,776.5 L113,776.5 M105,781.5 L113,781.5" style="stroke-width:1.7" />
<path d="M103.4,798.5 L110,808.6 L125.4,809.2" style="stroke-width:1.8" />
<path d="M120.6,780.8 L143.8,780.8 M120.6,787 L143.8,787 M124.6,803 L120.6,803" style="stroke-width:1.1" />
<rect x="109.3" y="647.7" width="4.6" height="5" style="stroke-width:1.1"/>
<rect x="109.3" y="676.1" width="4.6" height="5" style="stroke-width:1.1"/>
<rect x="109.3" y="704.5" width="4.6" height="5" style="stroke-width:1.1"/>
<rect x="109.3" y="732.9" width="4.6" height="5" style="stroke-width:1.1"/>
<rect x="109.3" y="761.3" width="4.6" height="5" style="stroke-width:1.1"/>
<rect x="109.3" y="789.7" width="4.6" height="5" style="stroke-width:1.1"/>
<path d="M107,690 L127,690" style="stroke-width:1;stroke:#444" stroke-dasharray="4 2"/>
<path d="M113,688.5 L113,701 M121.5,688.5 L121.5,707" style="stroke-width:1" />
<ellipse cx="126.2" cy="720.5" rx="4.6" ry="15" style="stroke-width:1.6"/>
<ellipse cx="126.4" cy="712" rx="3" ry="4.5" style="stroke-width:1.2"/>
<ellipse cx="126.4" cy="730" rx="3" ry="4.5" style="stroke-width:1.2"/>
<path d="M106,726.5 L122,726.5 M121.5,718 L131,718 M121.5,724 L131,724" style="stroke-width:1.2" />
<path d="M243.5,632.2 L282.7,632.2" style="stroke-width:2" />
<path d="M243.5,632.2 L243.5,666 M243.5,770.4 L243.5,808" style="stroke-width:1.5" />
<path d="M247.2,633 L247.2,664 M247.2,772 L247.2,807" />
<path d="M243.5,808 L282.7,808 L282.7,798.8" style="stroke-width:2" />
<path d="M247,806 L281,806" style="stroke-width:1" />
<path d="M249.8,668 L249.8,641.4 Q249.8,638.8 252.4,638.8 L267.2,638.8 Q269.7,638.8 269.7,641.6 L269.7,660.2 Q269.7,662.8 272.2,662.8 L282.7,662.8" style="stroke-width:1.7" />
<path d="M251.6,666 L251.6,643 Q251.6,640.8 253.8,640.8 L266,640.8 Q267.8,640.8 267.8,643 L267.8,661.5 Q268,664.6 271,664.6 L281,664.6" style="stroke-width:1" />
<path d="M282.7,632.2 L282.7,643.5 L290.5,643.5 Q292,643.5 292,645 L292,653.5 Q292,655 290.5,655 L282.7,655 L282.7,662.8" style="stroke-width:1.8" />
<path d="M272.7,662.8 L272.7,674.2 M272.7,737.3 L272.7,748 M272.7,768 L272.7,778.8" style="stroke-width:1.6" />
<path d="M255.8,695 L255.8,689.5 Q256,687.3 259,687 L265.5,686.6 Q268.6,686 268.8,683 L268.8,676 Q268.8,674.2 270.6,674.2 L290.4,674.2 Q292,674.2 292,676 L292,685.6 Q292,687.3 290.4,687.3 L282.7,687.3 L282.7,695" style="stroke-width:1.8" />
<path d="M255.8,695 L282.7,695 M255.8,697 L282.7,697" style="stroke-width:1.2" />
<path d="M257.8,694 L257.8,690.5 Q258,689 260,688.8 L263,688.6" style="stroke-width:1" />
<path d="M246.5,697.5 L246.5,714.5 M246.5,697.5 L256,697.5 M246.5,714.5 L256,714.5 M248.5,712.5 L248.5,714.5" style="stroke-width:1.1" />
<path d="M255.8,715 L255.8,721.5 Q256,724.6 259.5,725 L266.5,725 Q268.8,725.2 268.8,727.6 L268.8,735.6 Q268.8,737.3 270.6,737.3 L290.4,737.3 Q292,737.3 292,735.6 L292,726 Q292,724.2 290.4,724.2 L283.5,724.2 L283.5,715" style="stroke-width:1.8" />
<path d="M255.8,715 L283.5,715" style="stroke-width:1.4" />
<path d="M258,716 L258,721 Q258.4,722.8 261,723 M262.5,716 L262.5,724" style="stroke-width:1" />
<path d="M270.6,748 L282,748 Q283.5,748 283.5,749.6 L283.5,756.5 L290.4,756.5 Q292,756.5 292,758.2 L292,766.3 Q292,768 290.4,768 L270.6,768 Q268.8,768 268.8,766.3 L268.8,749.6 Q268.8,748 270.6,748 Z" style="stroke-width:1.8" />
<path d="M251.2,768.8 L251.2,800 Q251.2,802.7 253.6,802.7 L266.4,802.7 Q268.8,802.7 268.8,800 L268.8,780.5 Q268.8,778.8 270.6,778.8 L282,778.8 Q283.5,778.8 283.5,780.4 L283.5,786.5 L290.4,786.5 Q292,786.5 292,788.2 L292,798.8 L283,798.8" style="stroke-width:1.8" />
<path d="M253,770 L253,799.5 Q253.2,800.8 254.6,800.8 L265.6,800.8 Q267,800.8 267,799.5 L267,781" style="stroke-width:1" />
<path d="M283,798.8 L292,798.8" style="stroke-width:2.4" />
<rect x="274.4" y="651.5" width="4.2" height="5" style="stroke-width:1.1"/>
<rect x="274.4" y="681.7" width="4.2" height="5" style="stroke-width:1.1"/>
<rect x="274.4" y="725.5" width="4.2" height="5" style="stroke-width:1.1"/>
<rect x="274.4" y="755.5" width="4.2" height="5" style="stroke-width:1.1"/>
<rect x="274.4" y="786.0" width="4.2" height="5" style="stroke-width:1.1"/>
<path d="M233.8,671.2 L221.5,710 L223.8,714.6 L223.8,727 L221.5,731.5 L233.8,764.8" />
<path d="M235.4,676.5 L235.4,764.4" style="stroke-width:1.2" />
<path d="M237.2,675.5 L225.3,710 L227.6,713 L227.6,728.5 L225.3,731.5 L236.8,763.8" />
<path d="M243.5,666 L236.5,675.5 L243.5,675.5 M252,664.5 L238,676.5 L225,709 M249,668.5 L240,677.5 L228,707 M235.8,745.8 L251.2,768 M233,747 L247.5,770.4 M236.5,764.8 L243.5,770.4" style="stroke-width:1.1" />
<path d="M252.5,670 L261.5,678.5 L258.5,685 M263.5,692 L277,689.8 L276.6,686.8 M264.5,686 L264.5,694" style="stroke-width:1.1" />
<path d="M257,691 Q258,684.5 262,685 Q264.6,686 264.8,690.5" style="stroke-width:1.6" />
<path d="M103.2,599.1 L179,599.1 M207,599.1 L283.7,599.1 M111.5,618.5 L179.5,618.5 M207.6,618.5 L276.8,618.5" />
<path d="M103.2,596.5 L103.2,632 M111.5,615.5 L111.5,648 M276.8,615.5 L276.8,651.5 M283.7,596.5 L283.7,643.5" />
<path d="M71.4,632.3 L71.4,703 M71.4,737 L71.4,810 M70,632.3 L103.8,632.3 M70,810 L110,810" />
<path d="M89.8,649.4 L89.8,682 M88,650.2 L109,650.2 M88,678.6 L109,678.6" />
<path d="M304,653.5 L304,692 M304,720.5 L304,728.5 M283,653.5 L306,653.5 M283,684.2 L306,684.2 M293,728 L306,728" />
<path d="M130.8,787.7 L130.8,812.5 M143.8,772.3 L143.8,795.5 M90,809.2 L110,809.2" style="stroke-width:1.1" />
<path d="M282.7,798.8 L282.7,825.5 M292,798.8 L292,825.5 M277.7,821.5 L282.7,821.5 M292,821.5 L299,821.5" style="stroke-width:1.1" />
</g>
<g>
<text class="dimh" x="180.2" y="604" textLength="25.8" lengthAdjust="spacingAndGlyphs">33.50</text>
<text class="dimh" x="180.8" y="623.7" textLength="25.8" lengthAdjust="spacingAndGlyphs">30.50</text>
<text class="dim2" transform="translate(75.6,736.3) rotate(-90)" textLength="32.5" lengthAdjust="spacingAndGlyphs">26.40</text>
<text class="dim2" transform="translate(92.8,734) rotate(-90)" textLength="51" lengthAdjust="spacingAndGlyphs">4.20(X5)</text>
<text class="dim2" transform="translate(167.6,737.8) rotate(-90)" textLength="32.5" lengthAdjust="spacingAndGlyphs">14.80</text>
<text class="dimh" x="127.6" y="696" textLength="21" lengthAdjust="spacingAndGlyphs">1.50</text>
<text class="dimt" transform="translate(116,735) rotate(-62)" textLength="15" lengthAdjust="spacingAndGlyphs">2.5</text>
<text class="dim2" transform="translate(308.3,648.6) rotate(-90)" textLength="48.5" lengthAdjust="spacingAndGlyphs">4.50(X3)</text>
<text class="dim2" transform="translate(308.3,720) rotate(-90)" textLength="27.5" lengthAdjust="spacingAndGlyphs">6.50</text>
<text class="dimt" transform="translate(231.3,655.4) rotate(44)" textLength="24" lengthAdjust="spacingAndGlyphs">2.01</text>
<text class="dimt" x="241.3" y="714.4" textLength="21.5" lengthAdjust="spacingAndGlyphs" style="font-size:14.5px;stroke-width:.55px">2.09</text>
<text class="dimh" x="256.6" y="826.2" textLength="20.5" lengthAdjust="spacingAndGlyphs">1.60</text>
<text class="dim2" transform="translate(148,821.6) rotate(-90)" textLength="25.6" lengthAdjust="spacingAndGlyphs">1.00</text>
<text class="dim2" transform="translate(135.4,840) rotate(-90)" textLength="25.4" lengthAdjust="spacingAndGlyphs">3.35</text>
<g class="de"><ellipse cx="164.6" cy="589.6" rx="5.9" ry="7.7"/><ellipse cx="164.6" cy="610.8" rx="5.9" ry="7.7"/><ellipse cx="59.4" cy="721.4" rx="5.9" ry="7.7"/><ellipse cx="88.5" cy="753.2" rx="5.9" ry="7.7"/><ellipse cx="317" cy="631.4" rx="5.9" ry="7.7"/><ellipse cx="317" cy="707.5" rx="5.9" ry="7.7"/></g>
<g stroke="#999" stroke-width=".8" fill="none"><path d="M158.6,581 v4 M170.6,581 v4 M161.6,580.5 h6 M158.6,602.2 v4 M170.6,602.2 v4 M161.6,601.7 h6 M53.4,712.8 v4 M65.4,712.8 v4 M56.4,712.3 h6 M53.9,730.6 h11 M82.5,744.6 v4 M94.5,744.6 v4 M85.5,744.1 h6 M83,762.4 h11 M311,622.8 v4 M323,622.8 v4 M314,622.3 h6 M311.5,640.6 h11 M311,698.9 v4 M323,698.9 v4 M314,698.4 h6 M311.5,716.7 h11"/>
<path d="M91,634 h10.5 M91,634 v14 M90.8,789.2 h10.7 v16.2 h-10.7 Z M285,627.5 h9.5 v13.5 M285.8,798.8 h14.6 v16.2 h-14.6" stroke-dasharray="3 2"/></g>
<text class="dat" x="164.6" y="593">L</text>
<text class="dat" x="164.6" y="614.2" textLength="5.5" lengthAdjust="spacingAndGlyphs">M</text>
<text class="dat" x="59.4" y="724.8" textLength="5.5" lengthAdjust="spacingAndGlyphs">N</text>
<text class="dat" x="88.5" y="756.6" textLength="5.5" lengthAdjust="spacingAndGlyphs">O</text>
<text class="dat" x="317" y="634.8">J</text>
<text class="dat" x="317" y="711" textLength="5.5" lengthAdjust="spacingAndGlyphs">K</text>
<text class="pinno" x="96.3" y="646.5">6</text>
<text class="pinno" x="96.3" y="802">1</text>
<text class="pinno" x="289.8" y="639.5">7</text>
<text class="pinno" x="292.8" y="812.5" textLength="9" lengthAdjust="spacingAndGlyphs">11</text>
</g>
<!-- isometric view 2 (bottom right) -->
<g transform="translate(866.2,474.5) scale(-1,1)">
<g class="ln" style="stroke-width:1.45">
<path d="M414.0,138.3 L417.3,138.2 L420.7,138.2 L424.0,138.4 L427.2,138.8 L430.5,139.2 L433.7,139.8 L436.9,140.6 L440.0,141.4 L443.0,142.5 L445.9,143.6 L448.8,144.8 L451.5,146.2 L454.1,147.7 L456.6,149.3 L459.0,151.0 L461.2,152.8 L463.3,154.7 L465.3,156.7 L467.0,158.8 L468.6,160.9 L470.1,163.1 L471.3,165.4 L472.4,167.7 L473.3,170.0"/>
<path d="M424.0,222.0 L419.9,222.2 L415.8,222.2 L411.8,222.0 L407.8,221.5 L403.8,220.9 L399.9,220.0 L396.1,219.0 L392.4,217.7 L388.9,216.3 L385.4,214.7 L382.2,212.9 L379.1,210.9 L376.3,208.8 L373.6,206.5 L371.2,204.1 L369.0,201.6 L367.0,199.0 L365.3,196.3 L363.9,193.5 L362.8,190.6 L361.9,187.7 L361.3,184.7 L361.0,181.7 L361.0,178.7"/>
<path d="M424.0,224.2 L420.8,224.3 L417.7,224.4 L414.5,224.3 L411.4,224.1 L408.3,223.8 L405.2,223.3 L402.1,222.7 L399.1,222.0 L396.2,221.2 L393.3,220.3 L390.5,219.2 L387.8,218.0 L385.2,216.7 L382.6,215.3 L380.2,213.9 L377.9,212.3 L375.8,210.6 L373.7,208.8 L371.8,207.0 L370.0,205.1 L368.4,203.1 L366.9,201.0 L365.6,198.9 L364.4,196.8"/>
<path d="M421.4,203.7 L415.2,203.7 L409.1,202.9 L403.3,201.2 L398.0,198.8 L393.5,195.6 L389.8,191.9 L387.2,187.8 L385.6,183.3 L385.2,178.7 L386.0,174.1 L387.9,169.8 L391.0,165.7 L395.0,162.2 L399.8,159.3 L405.2,157.1 L411.2,155.7 L417.4,155.2 L423.6,155.6 L429.6,156.8 L435.1,158.8 L440.1,161.5 L444.3,165.0 L447.5,168.9 L449.7,173.2"/>
<path d="M458.3,228.5 L458.1,232.4 L457.3,236.3 L455.7,240.1 L453.6,243.7 L450.8,247.1 L447.4,250.2 L443.6,252.8 L439.3,255.1 L434.6,257.0 L429.7,258.3 L424.6,259.2 L419.4,259.5 L414.2,259.3 L409.0,258.6 L404.0,257.4 L399.3,255.7 L394.9,253.5 L390.9,250.9 L387.5,247.9 L384.5,244.7 L382.2,241.1 L380.5,237.3 L379.4,233.5 L379.1,229.5"/>
<path d="M460.7,233.1 L460.1,237.3 L458.9,241.3 L457.1,245.2 L454.6,248.8 L451.5,252.2 L447.9,255.3 L443.8,258.0 L439.3,260.2 L434.4,262.0 L429.3,263.3 L424.1,264.1 L418.7,264.4 L413.3,264.1 L408.1,263.3 L403.0,262.0 L398.1,260.2 L393.6,258.0 L389.5,255.3 L385.9,252.2 L382.8,248.8 L380.3,245.2 L378.5,241.3 L377.3,237.3 L376.7,233.1"/>
<path d="M379.1,214 L379.1,229.5"/>
<path d="M458.3,212.3 L458.3,229.5"/>
</g>
<g transform="translate(345,112) scale(0.107692)" class="ln" style="stroke-width:13.46" >
<path d="M148,430 L148,615"/>
<path d="M148,430 L355,360 L400,350 Q450,300 530,265"/>
<path d="M148,585 L355,520 L355,360 M355,520 L400,520 L400,350"/>
<path d="M288,312 L288,285 Q300,250 335,255 Q355,262 358,300 L378,320 L445,275 L445,205 L490,180 L600,55 L640,80 L640,250"/>
<path d="M300,300 Q315,270 345,275 M470,195 L490,240 M445,250 L490,235"/>
<path d="M635,88 L530,215 L530,420"/>
<path d="M378,320 L400,350"/>
</g>
<g transform="translate(415,165) scale(0.115385)" class="ln" style="stroke-width:12.57" >
<path d="M75,335 L175,160 L195,150 L300,72 L520,10 L555,20 L610,200 L605,260 L525,320 L400,285"/>
<path d="M215,350 L215,200 L200,180 L320,95 L515,45"/>
<path d="M175,160 L200,180"/>
<path d="M320,95 L320,215 M378,108 L378,225 M378,108 L505,62"/>
<path d="M515,45 L545,190 M522,30 L605,200"/>
<path d="M378,225 L500,180 L545,190 L605,205 M378,225 L525,270 L605,215 M525,270 L525,320"/>
<path d="M75,335 L75,515 L160,575 L245,525 L245,465 L215,350"/>
<path d="M75,335 L105,350 L155,510 L155,575 M155,510 L190,490 L245,465 M190,490 L190,545"/>
<path d="M140,300 L190,470 M180,400 L215,350"/>
<path d="M240,255 L290,215 L350,265 L385,260 L400,290 L400,375 L350,410 L240,335 Z"/>
<path d="M240,255 L330,300 L350,265 M330,300 L345,320 L345,410 M250,270 L330,315"/>
<path d="M345,290 Q350,268 375,268 Q392,272 392,295"/>
<path d="M360,300 L360,400 M378,295 L378,390"/>
</g>
</g>
<g transform="translate(445,585) scale(0.123077)" class="ln" style="stroke-width:11.78" >
<path d="M375,297 L500,345 Q562,388 570,425 L570,500 L495,545"/>
<path d="M495,388 L512,378"/>
</g>
<g transform="translate(340,700) scale(0.123077)" class="ln" style="stroke-width:11.78" >
<path d="M180,255 L415,163 L502,200 L255,300 Z"/>
<path d="M218,262 L418,182 L476,206 L272,286 Z"/>
<path d="M415,245 L445,200 L476,210"/>
<path d="M180,255 L180,390 L250,430 L250,300"/>
<path d="M250,430 L295,412"/>
<path d="M192,272 L192,388"/>
<path d="M310,355 L545,263 L632,300 L385,400 Z"/>
<path d="M348,362 L548,282 L606,306 L402,386 Z"/>
<path d="M545,345 L575,300 L606,310"/>
<path d="M310,355 L310,490 L380,530 L380,400"/>
<path d="M380,530 L425,512"/>
<path d="M322,372 L322,488"/>
<path d="M440,455 L675,363 L762,400 L515,500 Z"/>
<path d="M478,462 L678,382 L736,406 L532,486 Z"/>
<path d="M675,445 L705,400 L736,410"/>
<path d="M440,455 L440,590 L510,630 L510,500"/>
<path d="M510,630 L555,612"/>
<path d="M452,472 L452,588"/>
<path d="M45,100 L130,40 L305,160 L400,95 Q405,40 440,-15 Q470,-60 515,-105"/>
<path d="M45,100 L45,295 L110,335 M45,160 L115,208 M52,108 L52,290"/>
<path d="M110,290 Q115,258 150,245 L215,190 L290,190 L325,215 L245,285"/>
<path d="M165,250 L225,205 L285,205 M240,215 L270,215 L270,245 L240,245 Z M180,262 L225,232 L250,262"/>
<path d="M110,290 L110,335 M150,248 L150,330 M180,330 L180,390 L240,430"/>
<path d="M109,335 L109,581 Q131,595 153,581 L153,335"/>
<path d="M131,345 L131,576"/>
<path d="M237,444 L237,675 Q259,689 282,675 L282,444"/>
<path d="M259,454 L259,670"/>
<path d="M366,531 L366,775 Q389,789 412,775 L412,531"/>
<path d="M389,541 L389,770"/>
<path d="M497,625 L497,869 Q520,883 544,869 L544,625"/>
<path d="M520,635 L520,864"/>
<path d="M628,706 L628,956 Q653,970 678,956 L678,706"/>
<path d="M653,716 L653,951"/>
<path d="M759,838 L759,1050 Q782,1064 806,1050 L806,838"/>
<path d="M782,848 L782,1045"/>
</g>
<g transform="translate(400,700) scale(0.153846)" class="ln" style="stroke-width:9.42" >
<path d="M70,440 L155,385 L190,405 L190,445 L150,470 L140,490"/>
<path d="M70,440 L70,530 L130,570 L160,555 M85,450 Q115,480 130,570 M85,450 L160,405 L175,415 L175,445"/>
<path d="M300,345 L230,395 L365,510 L260,575 L145,490"/>
<path d="M145,490 L175,520 L175,610 L260,670 L260,575"/>
<path d="M365,510 L365,710 L330,720 L285,680 M350,620 L350,705 M260,670 L285,680 L350,620"/>
<path d="M150,502 L258,589 L363,524"/>
<path d="M655,185 Q615,290 500,340 Q400,365 300,345"/>
<path d="M655,235 Q600,330 500,375 Q400,395 310,385 L300,345"/>
</g>
<g transform="translate(480,650) scale(0.153846)" class="ln" style="stroke-width:9.42" >
<path d="M270,185 L345,140 L570,295 L390,425 L245,335 L170,385"/>
<path d="M570,295 L570,410 L410,530 L410,620 L390,640 L390,425"/>
<path d="M392,440 L570,310"/>
<path d="M245,335 L245,550 L385,640"/>
<path d="M170,385 L170,555 L210,570 L245,550 M190,410 L190,562 M210,400 L210,570 M190,410 L210,400"/>
<path d="M345,240 L405,195 L450,225 L395,270 Z M365,243 L405,215 L405,262"/>
<path d="M175,30 L245,70 L270,100 L270,185 M245,72 L150,132 M260,150 L130,240 M270,185 L135,295 L70,245"/>
<path d="M75,245 L120,215 L150,235 L150,275 L130,295 M120,215 L120,260 L130,295"/>
<path d="M165,480 Q135,560 60,625"/>
<path d="M445,500 L445,610 Q462,624 480,610 L480,500"/>
<path d="M462,510 L462,605"/>
</g>
</svg>
</body>
</html>
